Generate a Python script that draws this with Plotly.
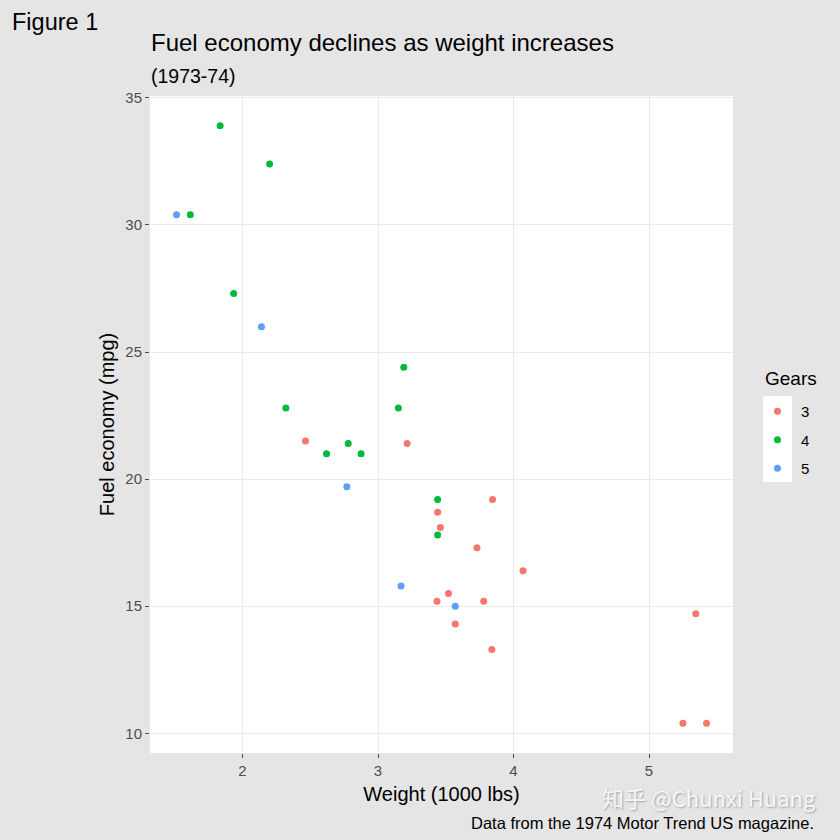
import plotly.graph_objects as go

# mtcars: weight (1000 lbs), mpg, gears
wt = [2.620, 2.875, 2.320, 3.215, 3.440, 3.460, 3.570, 3.190, 3.150, 3.440, 3.440,
      4.070, 3.730, 3.780, 5.250, 5.424, 5.345, 2.200, 1.615, 1.835, 2.465, 3.520,
      3.435, 3.840, 3.845, 1.935, 2.140, 1.513, 3.170, 2.770, 3.570, 2.780]
mpg = [21.0, 21.0, 22.8, 21.4, 18.7, 18.1, 14.3, 24.4, 22.8, 19.2, 17.8,
       16.4, 17.3, 15.2, 10.4, 10.4, 14.7, 32.4, 30.4, 33.9, 21.5, 15.5,
       15.2, 13.3, 19.2, 27.3, 26.0, 30.4, 15.8, 19.7, 15.0, 21.4]
gear = [4, 4, 4, 3, 3, 3, 3, 4, 4, 4, 4,
        3, 3, 3, 3, 3, 3, 4, 4, 4, 3, 3,
        3, 3, 3, 4, 5, 5, 5, 5, 5, 4]

gear_levels = [3, 4, 5]
gear_colors = {3: '#F8766D', 4: '#00BA38', 5: '#619CFF'}

bg = '#e5e5e5'
font_family = 'Liberation Sans, Arial, sans-serif'

fig = go.Figure()
for g in gear_levels:
    xs = [w for w, gg in zip(wt, gear) if gg == g]
    ys = [m for m, gg in zip(mpg, gear) if gg == g]
    fig.add_trace(go.Scatter(
        x=xs, y=ys, mode='markers', name=str(g), legendgroup=str(g),
        marker=dict(color=gear_colors[g], size=7, line=dict(width=0)),
    ))

# ggplot-style 5% expansion
lo_x, hi_x = min(wt), max(wt)
lo_y, hi_y = min(mpg), max(mpg)
ex_x = (hi_x - lo_x) * 0.05
ex_y = (hi_y - lo_y) * 0.05

fig.update_layout(
    width=840, height=840,
    margin=dict(l=150, r=107, t=96, b=87),
    paper_bgcolor=bg, plot_bgcolor='white',
    font=dict(family=font_family, color='black'),
    xaxis=dict(
        range=[lo_x - ex_x, hi_x + ex_x], tickvals=[2, 3, 4, 5],
        showgrid=True, gridcolor='#ebebeb', gridwidth=1, zeroline=False,
        ticks='outside', ticklen=4, tickcolor='#4d4d4d',
        tickfont=dict(size=15, color='#4d4d4d'),
        title=dict(text='Weight (1000 lbs)', font=dict(size=20, color='black'), standoff=8),
        showline=False,
    ),
    yaxis=dict(
        range=[lo_y - ex_y, hi_y + ex_y], tickvals=[10, 15, 20, 25, 30, 35],
        showgrid=True, gridcolor='#ebebeb', gridwidth=1, zeroline=False,
        ticks='outside', ticklen=4, tickcolor='#4d4d4d',
        tickfont=dict(size=15, color='#4d4d4d'),
        title=dict(text='Fuel economy (mpg)', font=dict(size=20, color='black'), standoff=5),
        showline=False,
    ),
    legend=dict(
        x=1.036, y=0.5449, xanchor='left', yanchor='top',
        bgcolor='rgba(0,0,0,0)', font=dict(size=15, color='black'),
        tracegroupgap=6, itemwidth=37,
    ),
    shapes=[dict(type='rect', xref='paper', yref='paper',
                 x0=1.0515, x1=1.1012, y0=0.4125, y1=0.5434,
                 fillcolor='white', line=dict(width=0), layer='below')],
    annotations=[
        dict(text='Figure 1', xref='paper', yref='paper', x=-0.240, y=1.1126,
             xanchor='left', yanchor='middle', showarrow=False,
             font=dict(size=23.5, color='black')),
        dict(text='Fuel economy declines as weight increases', xref='paper', yref='paper',
             x=-0.002, y=1.0807, xanchor='left', yanchor='middle', showarrow=False,
             font=dict(size=24, color='black')),
        dict(text='(1973-74)', xref='paper', yref='paper',
             x=-0.002, y=1.0304, xanchor='left', yanchor='middle', showarrow=False,
             font=dict(size=19.5, color='black')),
        dict(text='Gears', xref='paper', yref='paper',
             x=1.0515, y=(753 - 378) / 657, xanchor='left', yanchor='middle', showarrow=False,
             font=dict(size=19, color='black')),
        dict(text='知乎 @Chunxi Huang', xref='paper', yref='paper',
             x=1.1458, y=-0.067, xanchor='right', yanchor='middle', showarrow=False,
             font=dict(size=22, color='rgba(255,255,255,0.9)',
                       shadow='1px 1px 2px #9a9a9a',
                       family='Noto Sans CJK SC, Liberation Sans, sans-serif')),
        dict(text='Data from the 1974 Motor Trend US magazine.', xref='paper', yref='paper',
             x=1.1424, y=-0.1065, xanchor='right', yanchor='middle', showarrow=False,
             font=dict(size=16.5, color='black')),
    ],
)

fig.write_html("out.html", config={'displayModeBar': False},
               post_script="document.body.style.margin='0';")
